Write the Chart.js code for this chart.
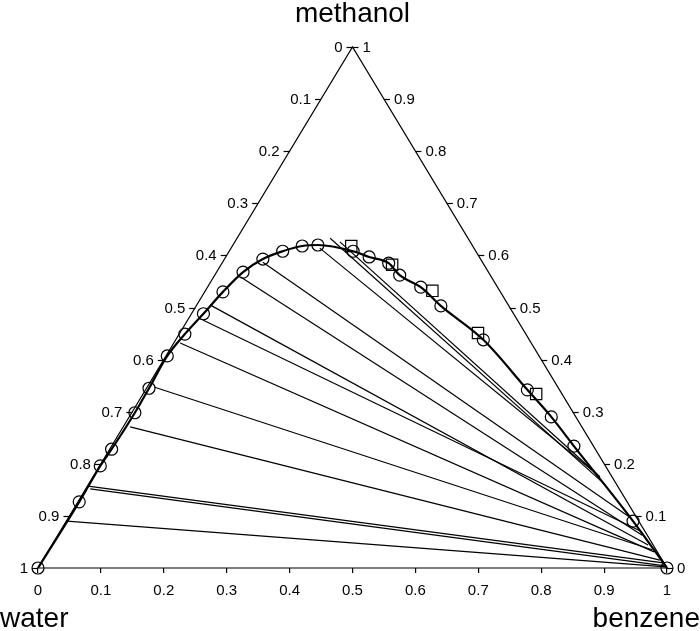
<!DOCTYPE html>
<html>
<head>
<meta charset="utf-8">
<script src="https://cdn.jsdelivr.net/npm/chart.js@4/dist/chart.umd.min.js"></script>
<style>
  body { margin: 0; background: #fff; }
</style>
</head>
<body>
<canvas id="myChart" width="700" height="631"></canvas>
<script>
// mass fractions (benzene, methanol), water is the rest
const circleBenzene = [0, 0.002, 0.001, 0.003, 0.005, 0.004, 0.002, 0.009, 0.019, 0.029, 0.042, 0.061, 0.085, 0.111, 0.135, 0.197, 0.228, 0.265, 0.294, 0.339, 0.389, 0.489, 0.607, 0.671, 0.735, 0.901, 1];
const circleMethanol = [0, 0.127, 0.196, 0.228, 0.298, 0.345, 0.407, 0.449, 0.488, 0.530, 0.568, 0.593, 0.608, 0.618, 0.620, 0.608, 0.597, 0.585, 0.562, 0.539, 0.503, 0.438, 0.342, 0.290, 0.234, 0.090, 0];

const squareBenzene = [0.189, 0.272, 0.361, 0.474, 0.625];
const squareMethanol = [0.618, 0.582, 0.532, 0.451, 0.334];

// tie lines: water-rich end and benzene-rich end
const tieLeftBenzene = [0.001, 0.001, 0.007, 0.011, 0.012, 0.010, 0.024, 0.021, 0.042, 0.064, 0.141, 0.148, 0.167];
const tieLeftMethanol = [0.090, 0.157, 0.152, 0.271, 0.347, 0.432, 0.476, 0.505, 0.559, 0.587, 0.614, 0.633, 0.626];
const tieRightBenzene = [0.997, 0.989, 0.995, 0.981, 0.959, 0.964, 0.922, 0.948, 0.929, 0.888, 0.806, 0.823, 0.799];
const tieRightMethanol = [0.002, 0.010, 0.004, 0.015, 0.035, 0.031, 0.071, 0.044, 0.063, 0.100, 0.175, 0.159, 0.180];

const tickValues = [0, 0.1, 0.2, 0.3, 0.4, 0.5, 0.6, 0.7, 0.8, 0.9, 1];
const cornerLabels = ["water", "methanol", "benzene"];

const fontFamily = "'Liberation Sans', Arial, Helvetica, sans-serif";
Chart.defaults.font.family = fontFamily;
Chart.defaults.font.size = 15;
Chart.defaults.color = "#000";

// ternary -> cartesian (water at origin, benzene at x=1, methanol on top)
function toXY(b, m) {
  return { x: b + m / 2, y: m };
}

function zipPoints(bs, ms) {
  return bs.map((b, i) => toXY(b, ms[i]));
}

let datasets = [];

datasets.push({
  label: "binodal",
  data: zipPoints(circleBenzene, circleMethanol),
  showLine: true,
  borderColor: "#000",
  borderWidth: 2.2,
  pointRadius: 0,
  cubicInterpolationMode: "monotone",
  clip: false,
});

datasets.push({
  label: "circles",
  data: zipPoints(circleBenzene, circleMethanol),
  showLine: false,
  pointStyle: "circle",
  pointRadius: 6,
  borderColor: "#000",
  borderWidth: 1.2,
  backgroundColor: "rgba(0,0,0,0)",
  clip: false,
});

datasets.push({
  label: "squares",
  data: zipPoints(squareBenzene, squareMethanol),
  showLine: false,
  pointStyle: "rect",
  pointRadius: 8,
  borderColor: "#000",
  borderWidth: 1.2,
  backgroundColor: "rgba(0,0,0,0)",
  clip: false,
});

tieLeftBenzene.forEach((b, i) => {
  datasets.push({
    label: "tie" + i,
    data: [toXY(b, tieLeftMethanol[i]), toXY(tieRightBenzene[i], tieRightMethanol[i])],
    showLine: true,
    borderColor: "#000",
    borderWidth: 1.2,
    pointRadius: 0,
    clip: false,
  });
});

// triangle frame
datasets.push({
  label: "frame",
  data: [toXY(0, 0), toXY(0, 1), toXY(1, 0), toXY(0, 0)],
  showLine: true,
  borderColor: "#000",
  borderWidth: 1.2,
  pointRadius: 0,
  clip: false,
});

// left and right edge ticks, corner names
const ternaryAxes = {
  id: "ternaryAxes",
  afterDraw(chart) {
    const { ctx, scales } = chart;
    const x = scales.x;
    const y = scales.y;
    ctx.save();
    ctx.strokeStyle = "#000";
    ctx.lineWidth = 1.2;
    ctx.fillStyle = "#000";
    ctx.font = "15px " + fontFamily;
    ctx.textBaseline = "middle";

    tickValues.forEach((v) => {
      // left edge: 0 at methanol corner, 1 at water corner
      let m = 1 - v;
      let px = x.getPixelForValue(m / 2);
      let py = Math.round(y.getPixelForValue(m)) + 0.5;
      ctx.beginPath();
      ctx.moveTo(px - 6, py);
      ctx.lineTo(px, py);
      ctx.stroke();
      ctx.textAlign = "right";
      ctx.fillText(String(v), px - 10, py);

      // right edge: methanol fraction
      m = v;
      px = x.getPixelForValue(1 - m / 2);
      py = Math.round(y.getPixelForValue(m)) + 0.5;
      ctx.beginPath();
      ctx.moveTo(px, py);
      ctx.lineTo(px + 6, py);
      ctx.stroke();
      ctx.textAlign = "left";
      ctx.fillText(String(v), px + 10, py);
    });

    ctx.font = "28px " + fontFamily;
    ctx.textBaseline = "alphabetic";
    ctx.textAlign = "left";
    ctx.fillText(cornerLabels[0], 0, 627);
    ctx.textAlign = "center";
    ctx.fillText(cornerLabels[1], x.getPixelForValue(0.5), 22);
    ctx.textAlign = "right";
    ctx.fillText(cornerLabels[2], 700, 627);
    ctx.restore();
  },
};

const config = {
  type: "scatter",
  data: { datasets: datasets },
  options: {
    responsive: false,
    animation: false,
    layout: {
      padding: { left: 38, right: 33, top: 47, bottom: 22 },
    },
    plugins: {
      legend: { display: false },
      tooltip: { enabled: false },
    },
    scales: {
      x: {
        type: "linear",
        min: 0,
        max: 1,
        border: { display: false },
        grid: {
          drawOnChartArea: false,
          drawTicks: true,
          tickLength: 5,
          lineWidth: 1.2,
          color: "#000",
        },
        ticks: {
          stepSize: 0.1,
          padding: 9,
          maxRotation: 0,
          autoSkip: false,
          callback: (value) => String(Math.round(value * 10) / 10),
        },
      },
      y: {
        type: "linear",
        display: false,
        min: 0,
        max: 1,
      },
    },
  },
  plugins: [ternaryAxes],
};

const myChart = new Chart(document.getElementById("myChart"), config);
</script>
</body>
</html>
